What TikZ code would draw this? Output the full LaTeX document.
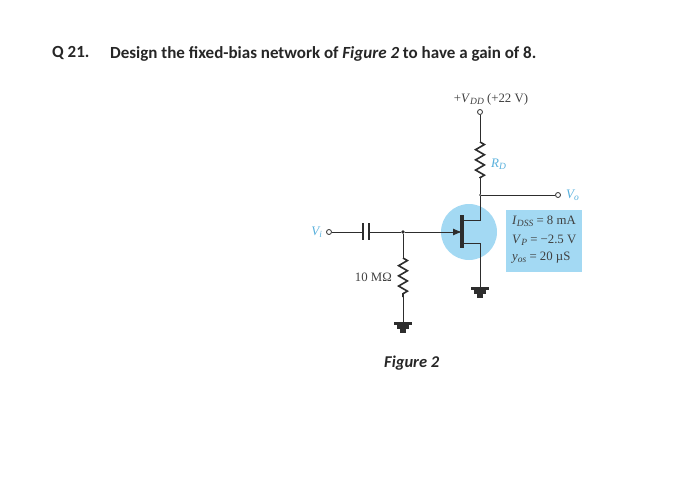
\documentclass[tikz,border=0pt]{standalone}
\usepackage{fontspec}
\setmainfont{Liberation Serif}
\newfontfamily\titlefont{Carlito}
\usetikzlibrary{positioning, arrows.meta, decorations.pathmorphing}
\definecolor{jfetblue}{RGB}{163,217,243}
\definecolor{labelblue}{RGB}{88,176,220}
\definecolor{wiregray}{RGB}{45,45,45}
\newcommand{\subtxt}[1]{\raisebox{-2pt}{\fontsize{9.5}{10}\selectfont\textit{#1}}}
\tikzset{
  wire/.style={draw=wiregray, line width=1pt},
  resistor/.style={
    wire,
    line width=1.6pt,
    decorate,
    decoration={zigzag, segment length=10.2pt, amplitude=4.4pt}
  },
  terminal/.style={
    circle,
    draw=wiregray,
    fill=white,
    line width=0.8pt,
    inner sep=0pt,
    minimum size=5pt
  },
  junction/.style={
    circle,
    fill=wiregray,
    inner sep=0pt,
    minimum size=3.6pt
  },
  titletext/.style={
    font=\titlefont\bfseries\fontsize{17}{20}\selectfont,
    text=black!85,
    inner sep=0pt
  },
  circuittext/.style={
    font=\fontsize{12.8}{14}\selectfont,
    text=black!75,
    inner sep=0pt
  },
  bluetext/.style={
    font=\itshape\fontsize{13}{14}\selectfont,
    text=labelblue,
    inner sep=0pt
  },
  ground/.pic={
    \fill[wiregray] (-9,0) rectangle (9,3.4);
    \fill[wiregray] (-6,3.4) rectangle (6,7);
    \fill[wiregray] (-3,7) rectangle (3,11);
  }
}

\begin{document}
\begin{tikzpicture}[x=1pt, y=-1pt]
  \useasboundingbox (0,0) rectangle (700,484);

  \node[titletext, anchor=west] (qnum) at (52,53) {Q 21.};
  \node[titletext, anchor=west] (question) at (110,53.5) {Design the fixed-bias network of \textit{Figure 2} to have a gain of 8.};

  \fill[jfetblue] (469,232) circle (28);
  \node[fill=jfetblue, minimum width=76pt, minimum height=62pt, inner sep=0pt] (params) at (544,241) {};

  \node[terminal] (vdd) at (480,112) {};
  \coordinate (rdtop) at (480,142);
  \coordinate (rdbot) at (480,178);
  \node[junction, minimum size=2pt] (drainjct) at (480,195) {};
  \node[terminal] (vout) at (558,195) {};
  \coordinate (draincorner) at (480,220);
  \coordinate (drain) at (462,220);
  \coordinate (source) at (462,243);
  \coordinate (sourcecorner) at (480,243);
  \coordinate (gndd) at (480,287);
  \coordinate (gate) at (462,232);
  \node[terminal] (vin) at (329,232) {};
  \coordinate (capl) at (363,232);
  \coordinate (capr) at (368.5,232);
  \node[junction] (gatejct) at (403,232) {};
  \coordinate (rgtop) at (403,258);
  \coordinate (rgbot) at (403,297);
  \coordinate (gndg) at (403,322);

  \draw[wire] (vdd) -- (rdtop);
  \draw[resistor] (rdtop) -- (rdbot);
  \draw[wire] (rdbot) -- (drainjct);
  \draw[wire] (drainjct) -- (vout);
  \draw[wire] (drainjct) -- (draincorner) -- (drain);
  \draw[wire] (source) -- (sourcecorner) -- (gndd);
  \draw[wiregray, line width=3.8pt] (462,215) -- (462,248);
  \draw[wire, -{Latex[length=9pt, width=7pt]}] (gatejct) -- (gate);
  \draw[wire] (vin) -- (capl);
  \draw[wire] (capr) -- (gatejct);
  \draw[wiregray, line width=2pt] (363,223) -- (363,240);
  \draw[wiregray, line width=2pt] (368.5,223) -- (368.5,240);
  \draw[wire] (gatejct) -- (rgtop);
  \draw[resistor] (rgtop) -- (rgbot);
  \draw[wire] (rgbot) -- (gndg);
  \pic at (gndd) {ground};
  \pic at (gndg) {ground};

  \node[circuittext] (vddlabel) at (491,99) {+\textit{V}\subtxt{DD} (+22 V)};
  \node[bluetext, anchor=west] (rdlabel) at (491,164) {R\subtxt{D}};
  \node[bluetext, right=5pt of vout] (volabel) {V\subtxt{o}};
  \node[bluetext, left=4pt of vin] (vilabel) {V\subtxt{i}};
  \node[circuittext, anchor=east] (rglabel) at (392,277) {10 MΩ};
  \node[circuittext, anchor=west] (idss) at (512,221) {\textit{I}\subtxt{DSS} = 8 mA};
  \node[circuittext, anchor=west] (vp) at (512,240) {\textit{V}\subtxt{P} = −2.5 V};
  \node[circuittext, anchor=west] (yos) at (512,258) {\textit{y}\subtxt{os} = 20 µS};
  \node[titletext, font=\titlefont\bfseries\itshape\fontsize{16.5}{19}\selectfont, anchor=west] (figlabel) at (384,363) {Figure 2};
\end{tikzpicture}
\end{document}
